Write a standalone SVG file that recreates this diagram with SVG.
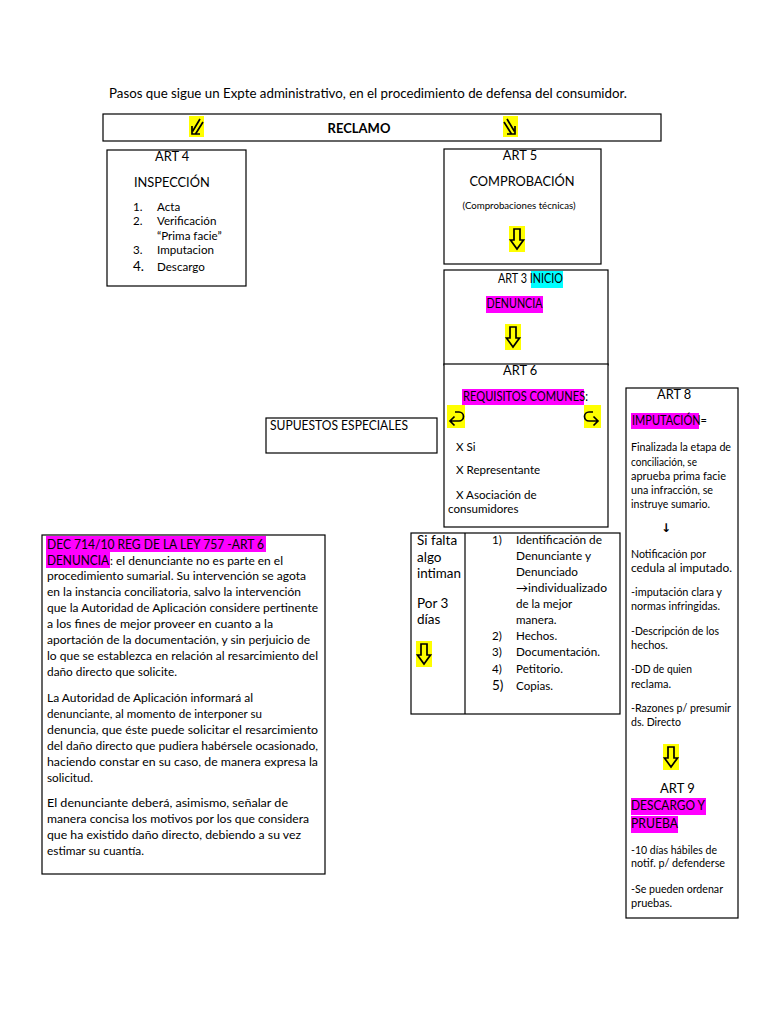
<svg xmlns="http://www.w3.org/2000/svg" xmlns:xlink="http://www.w3.org/1999/xlink" width="768" height="1024" viewBox="0 0 768 1024">
<style>
text{font-family:Lato,"Open Sans","Liberation Sans",sans-serif;fill:#000}
.box{fill:#fff;stroke:#000;stroke-width:1.2}
.t12{font-size:12.8px}
.t11{font-size:11.6px}
.t10{font-size:11px}
.b{font-weight:bold}
.mag{fill:#ff00ff}
.cy{fill:#00ffff}
.yl{fill:#ffff00}
.ar{fill:none;stroke:#000;stroke-width:1.7;stroke-linejoin:miter}
</style>
<defs>
<g id="down">
<rect x="0" y="0" width="16" height="26" class="yl"/>
<path d="M5,3 H11 V14 H14.5 L8,23 L1.5,14 H5 Z" class="ar"/>
</g>
</defs>
<rect width="768" height="1024" fill="#fff"/>

<g id="title">
<text x="109" y="98" font-size="14" textLength="518" lengthAdjust="spacingAndGlyphs">Pasos que sigue un Expte administrativo, en el procedimiento de defensa del consumidor.</text>
</g>

<g id="reclamo">
<rect x="103" y="114" width="558" height="27" class="box"/>
<text x="359" y="133" font-size="13" class="b" text-anchor="middle">RECLAMO</text>
<rect x="189" y="116" width="15" height="21" class="yl"/>
<path d="M192,126 V134 H200" class="ar" stroke-width="2.4"/>
<path d="M200,119 L192.5,131.5 M203,122 L195.5,134" class="ar" stroke-width="2.2"/>
<rect x="503" y="116" width="15" height="21" class="yl"/>
<path d="M515,126 V134 H507" class="ar" stroke-width="2.4"/>
<path d="M507,119 L514.5,131.5 M504,122 L511.5,134" class="ar" stroke-width="2.2"/>
</g>

<g id="art4">
<rect x="107" y="150" width="139" height="136" class="box"/>
<text x="155" y="161" class="t12">ART 4</text>
<text x="134" y="187" class="t12">INSPECCIÓN</text>
<text x="133" y="211" class="t11">1.</text><text x="157" y="211" class="t11">Acta</text>
<text x="133" y="225" class="t11">2.</text><text x="157" y="225" class="t11">Verificación</text>
<text x="157" y="240" class="t11">“Prima facie”</text>
<text x="133" y="254" class="t11">3.</text><text x="157" y="254" class="t11">Imputacion</text>
<text x="133" y="271" font-size="13.5">4.</text><text x="157" y="271" class="t11">Descargo</text>
</g>

<g id="art5">
<rect x="444" y="149" width="157" height="115" class="box"/>
<text x="520" y="160" class="t12" text-anchor="middle">ART 5</text>
<text x="522" y="186" class="t12" text-anchor="middle">COMPROBACIÓN</text>
<text x="519" y="209" font-size="10" text-anchor="middle" textLength="113" lengthAdjust="spacingAndGlyphs">(Comprobaciones técnicas)</text>
<use xlink:href="#down" x="509" y="226"/>
</g>

<g id="art3">
<rect x="444" y="270" width="164" height="95" class="box"/>
<rect x="531" y="271" width="32" height="17" class="cy"/>
<text x="498" y="283" class="t12" textLength="65" lengthAdjust="spacingAndGlyphs">ART 3 INICIO</text>
<rect x="486" y="296" width="57" height="17" class="mag"/>
<text x="514.5" y="308" class="t12" text-anchor="middle" textLength="56" lengthAdjust="spacingAndGlyphs">DENUNCIA</text>
<use xlink:href="#down" x="505" y="324"/>
</g>

<g id="art6">
<rect x="444" y="364" width="164" height="163" class="box"/>
<text x="503" y="375" class="t12">ART 6</text>
<rect x="462" y="389" width="122" height="16" class="mag"/>
<text x="463" y="401" class="t12" textLength="125" lengthAdjust="spacingAndGlyphs">REQUISITOS COMUNES:</text>
<rect x="447" y="405" width="18" height="23" class="yl"/>
<path d="M455,412 H459 A4.5,4.5 0 0 1 459,421 H450 M454.5,416.5 L450,421 L454.5,425.5" class="ar" stroke-width="2.2"/>
<rect x="584" y="405" width="17" height="23" class="yl"/>
<path d="M593,412 H589 A4.5,4.5 0 0 0 589,421 H598 M593.5,416.5 L598,421 L593.5,425.5" class="ar" stroke-width="2.2"/>
<text x="456" y="451" class="t11">X Si</text>
<text x="456" y="474" class="t11">X Representante</text>
<text x="456" y="499" class="t11">X Asociación de</text>
<text x="448" y="513" class="t11">consumidores</text>
</g>

<g id="supuestos">
<rect x="266" y="418" width="171" height="35" class="box"/>
<text x="270" y="430" font-size="13" textLength="138" lengthAdjust="spacingAndGlyphs">SUPUESTOS ESPECIALES</text>
</g>

<g id="dec">
<rect x="42" y="535" width="283" height="339" class="box"/>
<rect x="46" y="536" width="220" height="16" class="mag"/>
<rect x="46" y="552" width="64" height="16" class="mag"/>
<g class="t11">
<text x="47" y="549" font-size="12.5" textLength="217" lengthAdjust="spacingAndGlyphs">DEC 714/10 REG DE LA LEY 757 -ART 6</text>
<text x="47" y="565" font-size="12.5" textLength="62" lengthAdjust="spacingAndGlyphs">DENUNCIA</text>
<text x="110" y="565" textLength="173" lengthAdjust="spacingAndGlyphs">: el denunciante no es parte en el</text>
<text x="47" y="580" textLength="259" lengthAdjust="spacingAndGlyphs">procedimiento sumarial. Su intervención se agota</text>
<text x="47" y="596" textLength="254" lengthAdjust="spacingAndGlyphs">en la instancia conciliatoria, salvo la intervención</text>
<text x="47" y="612" textLength="271" lengthAdjust="spacingAndGlyphs">que la Autoridad de Aplicación considere pertinente</text>
<text x="47" y="628" textLength="226" lengthAdjust="spacingAndGlyphs">a los fines de mejor proveer en cuanto a la</text>
<text x="47" y="644" textLength="263" lengthAdjust="spacingAndGlyphs">aportación de la documentación, y sin perjuicio de</text>
<text x="47" y="660" textLength="271" lengthAdjust="spacingAndGlyphs">lo que se establezca en relación al resarcimiento del</text>
<text x="47" y="676" textLength="130" lengthAdjust="spacingAndGlyphs">daño directo que solicite.</text>
<text x="47" y="702" textLength="206" lengthAdjust="spacingAndGlyphs">La Autoridad de Aplicación informará al</text>
<text x="47" y="718" textLength="215" lengthAdjust="spacingAndGlyphs">denunciante, al momento de interponer su</text>
<text x="47" y="734" textLength="271" lengthAdjust="spacingAndGlyphs">denuncia, que éste puede solicitar el resarcimiento</text>
<text x="47" y="750" textLength="271" lengthAdjust="spacingAndGlyphs">del daño directo que pudiera habérsele ocasionado,</text>
<text x="47" y="766" textLength="271" lengthAdjust="spacingAndGlyphs">haciendo constar en su caso, de manera expresa la</text>
<text x="47" y="782" textLength="46" lengthAdjust="spacingAndGlyphs">solicitud.</text>
<text x="47" y="807" textLength="241" lengthAdjust="spacingAndGlyphs">El denunciante deberá, asimismo, señalar de</text>
<text x="47" y="823" textLength="262" lengthAdjust="spacingAndGlyphs">manera concisa los motivos por los que considera</text>
<text x="47" y="839" textLength="254" lengthAdjust="spacingAndGlyphs">que ha existido daño directo, debiendo a su vez</text>
<text x="47" y="855" textLength="97" lengthAdjust="spacingAndGlyphs">estimar su cuantía.</text>
</g>
</g>

<g id="sifalta">
<rect x="411" y="533" width="209" height="181" class="box"/>
<line x1="465" y1="533" x2="465" y2="714" stroke="#000" stroke-width="1.2"/>
<g font-size="13.5">
<text x="417" y="545">Si falta</text>
<text x="417" y="562">algo</text>
<text x="417" y="578" textLength="44" lengthAdjust="spacingAndGlyphs">intiman</text>
<text x="417" y="608">Por 3</text>
<text x="417" y="624">días</text>
</g>
<use xlink:href="#down" x="416" y="641"/>
<g class="t11">
<text x="492" y="544">1)</text><text x="516" y="544" textLength="86" lengthAdjust="spacingAndGlyphs">Identificación de</text>
<text x="516" y="560" textLength="75" lengthAdjust="spacingAndGlyphs">Denunciante y</text>
<text x="516" y="576" textLength="62" lengthAdjust="spacingAndGlyphs">Denunciado</text>
<text x="516" y="592" textLength="91" lengthAdjust="spacingAndGlyphs">→individualizado</text>
<text x="516" y="608">de la mejor</text>
<text x="516" y="624">manera.</text>
<text x="492" y="640">2)</text><text x="516" y="640">Hechos.</text>
<text x="492" y="656">3)</text><text x="516" y="656" textLength="84" lengthAdjust="spacingAndGlyphs">Documentación.</text>
<text x="492" y="673">4)</text><text x="516" y="673">Petitorio.</text>
<text x="492" y="690" font-size="13.5">5)</text><text x="516" y="690">Copias.</text>
</g>
</g>

<g id="art8">
<rect x="626" y="388" width="112" height="530" class="box"/>
<text x="657" y="399" class="t12">ART 8</text>
<rect x="631" y="413" width="68" height="16" class="mag"/>
<text x="632" y="425" class="t12" textLength="75" lengthAdjust="spacingAndGlyphs">IMPUTACIÓN=</text>
<g class="t10">
<text x="631" y="451" textLength="100" lengthAdjust="spacingAndGlyphs">Finalizada la etapa de</text>
<text x="631" y="466" textLength="66" lengthAdjust="spacingAndGlyphs">conciliación, se</text>
<text x="631" y="480" textLength="95" lengthAdjust="spacingAndGlyphs">aprueba prima facie</text>
<text x="631" y="494" textLength="82" lengthAdjust="spacingAndGlyphs">una infracción, se</text>
<text x="631" y="508" textLength="79" lengthAdjust="spacingAndGlyphs">instruye sumario.</text>
<text x="666" y="532" font-size="12" font-weight="bold" text-anchor="middle" style="font-family:'DejaVu Sans',sans-serif">↓</text>
<text x="631" y="558" textLength="75" lengthAdjust="spacingAndGlyphs">Notificación por</text>
<text x="631" y="572" textLength="101" lengthAdjust="spacingAndGlyphs">cedula al imputado.</text>
<text x="631" y="596" textLength="91" lengthAdjust="spacingAndGlyphs">-imputación clara y</text>
<text x="631" y="610" textLength="89" lengthAdjust="spacingAndGlyphs">normas infringidas.</text>
<text x="631" y="635" textLength="88" lengthAdjust="spacingAndGlyphs">-Descripción de los</text>
<text x="631" y="649">hechos.</text>
<text x="631" y="673" textLength="61" lengthAdjust="spacingAndGlyphs">-DD de quien</text>
<text x="631" y="688">reclama.</text>
<text x="631" y="712" textLength="100" lengthAdjust="spacingAndGlyphs">-Razones p/ presumir</text>
<text x="631" y="726" textLength="50" lengthAdjust="spacingAndGlyphs">ds. Directo</text>
</g>
<use xlink:href="#down" x="663" y="744"/>
<text x="660" y="793" font-size="13">ART 9</text>
<rect x="631" y="798" width="75" height="17" class="mag"/>
<rect x="631" y="816" width="47" height="17" class="mag"/>
<text x="631" y="810" font-size="13" textLength="74" lengthAdjust="spacingAndGlyphs">DESCARGO Y</text>
<text x="631" y="828" font-size="13" textLength="47" lengthAdjust="spacingAndGlyphs">PRUEBA</text>
<g class="t10">
<text x="631" y="854" textLength="86" lengthAdjust="spacingAndGlyphs">-10 días hábiles de</text>
<text x="631" y="867" textLength="94" lengthAdjust="spacingAndGlyphs">notif. p/ defenderse</text>
<text x="631" y="893" textLength="92" lengthAdjust="spacingAndGlyphs">-Se pueden ordenar</text>
<text x="631" y="907">pruebas.</text>
</g>
</g>
</svg>
